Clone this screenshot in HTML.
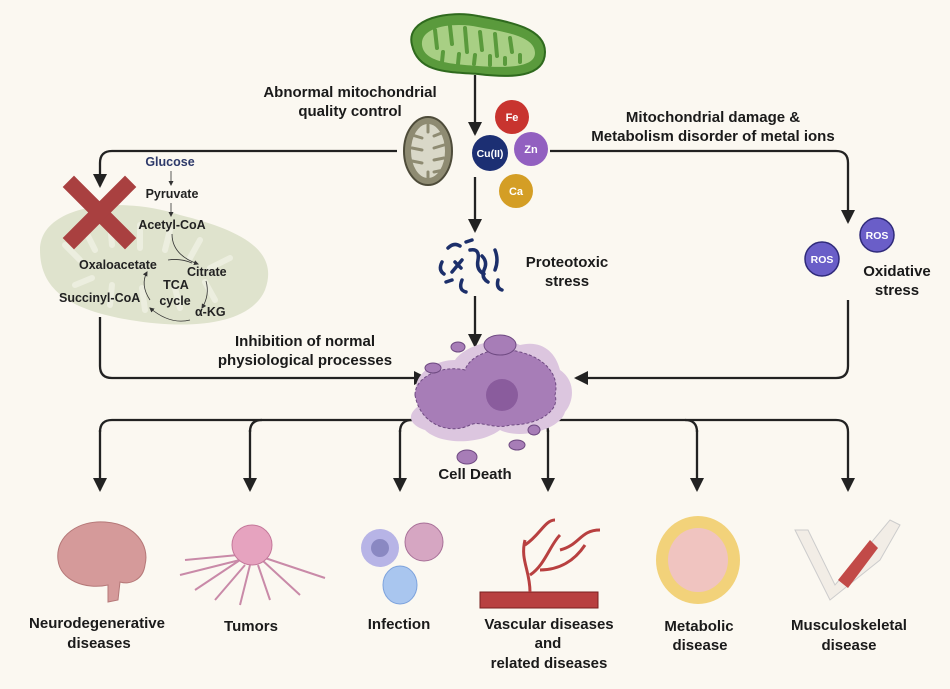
<!DOCTYPE html>
<html><head><meta charset="utf-8"><style>
html,body{margin:0;padding:0;background:#fbf8f1;}
svg{display:block;font-family:"Liberation Sans",sans-serif;font-weight:bold;}
</style></head><body>
<svg width="950" height="689" viewBox="0 0 950 689" xmlns="http://www.w3.org/2000/svg">
<defs>
<marker id="ah2" markerWidth="14" markerHeight="14" refX="12" refY="7" orient="auto" markerUnits="userSpaceOnUse" viewBox="0 0 14 14"><path d="M0,0 L14,7 L0,14 z" fill="#222"/></marker>
<marker id="sm" markerWidth="5" markerHeight="5" refX="4" refY="2.5" orient="auto" markerUnits="userSpaceOnUse" viewBox="0 0 5 5"><path d="M0,0 L5,2.5 L0,5 z" fill="#333"/></marker>
</defs>
<rect width="950" height="689" fill="#fbf8f1"/>

<path d="M40,250 C40,205 120,195 180,215 C240,230 280,250 265,290 C250,325 190,330 130,320 C70,310 40,290 40,250 Z" fill="#dfe3cd"/>
<g stroke="#eceedf" stroke-width="6" fill="none" stroke-linecap="round">
<path d="M65,245 L80,260 M85,230 L95,250 M110,222 L112,245 M140,225 L140,248 M170,230 L165,250 M200,240 L190,258 M230,258 L210,268 M75,285 L92,278 M110,305 L112,285 M145,310 L142,288 M180,308 L175,288 M215,300 L205,282"/>
</g>

<path d="M412,45 C405,18 450,10 478,16 C510,22 545,28 545,52 C545,78 510,78 478,74 C445,72 418,72 412,45 Z" fill="#5a9a3c" stroke="#2f6a1e" stroke-width="2"/>
<path d="M422,45 C420,26 455,22 478,27 C505,32 535,36 535,53 C535,68 505,68 478,66 C450,64 424,62 422,45 Z" fill="#a8cf84"/>
<g stroke="#5a9a3c" stroke-width="4" stroke-linecap="round">
<path d="M435,30 L437,48 M450,26 L452,44 M465,28 L467,52 M480,32 L482,50 M495,34 L497,56 M510,38 L512,52 M442,62 L443,52 M458,64 L459,54 M474,64 L475,55 M490,65 L490,56 M505,64 L505,58 M520,62 L520,55"/>
</g>

<ellipse cx="428" cy="151" rx="24" ry="34" fill="#8e8b72" stroke="#4e4c3a" stroke-width="2"/>
<ellipse cx="428" cy="151" rx="17" ry="27" fill="#d9d8c8"/>
<g stroke="#8e8b72" stroke-width="3" stroke-linecap="round">
<path d="M412,135 L422,138 M412,148 L422,150 M412,161 L422,163 M444,132 L434,136 M444,145 L434,148 M444,158 L434,160 M444,170 L434,172 M428,125 L428,132 M428,178 L428,172"/>
</g>

<circle cx="512" cy="117" r="17" fill="#c8342f"/>
<text x="512" y="121" font-size="11" fill="#fff" text-anchor="middle">Fe</text>
<circle cx="490" cy="153" r="18" fill="#1c2f73"/>
<text x="490" y="157" font-size="10.5" fill="#fff" text-anchor="middle">Cu(II)</text>
<circle cx="531" cy="149" r="17" fill="#9260c0"/>
<text x="531" y="153" font-size="11" fill="#fff" text-anchor="middle">Zn</text>
<circle cx="516" cy="191" r="17" fill="#d49e25"/>
<text x="516" y="195" font-size="11" fill="#fff" text-anchor="middle">Ca</text>

<g stroke="#222" stroke-width="2.3" fill="none">
<line x1="475" y1="75" x2="475" y2="134" marker-end="url(#ah2)"/>
<line x1="475" y1="177" x2="475" y2="231" marker-end="url(#ah2)"/>
<line x1="475" y1="296" x2="475" y2="346" marker-end="url(#ah2)"/>
<path d="M397,151 L112,151 Q100,151 100,163 L100,186" marker-end="url(#ah2)"/>
<path d="M550,151 L836,151 Q848,151 848,163 L848,222" marker-end="url(#ah2)"/>
<path d="M100,317 L100,366 Q100,378 112,378 L426,378" marker-end="url(#ah2)"/>
<path d="M848,300 L848,366 Q848,378 836,378 L576,378" marker-end="url(#ah2)"/>
<path d="M112,420 L836,420"/>
<path d="M100,432 Q100,420 112,420"/>
<path d="M836,420 Q848,420 848,432 L848,490" marker-end="url(#ah2)"/>
<path d="M250,432 Q250,420 262,420"/>
<line x1="250" y1="430" x2="250" y2="490" marker-end="url(#ah2)"/>
<path d="M400,432 Q400,420 412,420"/>
<line x1="400" y1="430" x2="400" y2="490" marker-end="url(#ah2)"/>
<path d="M548,432 Q548,420 536,420"/>
<line x1="548" y1="430" x2="548" y2="490" marker-end="url(#ah2)"/>
<path d="M697,432 Q697,420 685,420"/>
<line x1="697" y1="430" x2="697" y2="490" marker-end="url(#ah2)"/>
<line x1="100" y1="430" x2="100" y2="490" marker-end="url(#ah2)"/>
</g>

<g stroke="#a94040" stroke-width="16" stroke-linecap="square">
<line x1="74" y1="187" x2="125" y2="238"/>
<line x1="125" y1="187" x2="74" y2="238"/>
</g>

<g font-size="12.5" fill="#222">
<text x="170" y="166" text-anchor="middle" fill="#2e3a6a">Glucose</text>
<text x="172" y="198" text-anchor="middle">Pyruvate</text>
<text x="172" y="229" text-anchor="middle">Acetyl-CoA</text>
<text x="79" y="269">Oxaloacetate</text>
<text x="187" y="276">Citrate</text>
<text x="176" y="289" text-anchor="middle">TCA</text>
<text x="175" y="305" text-anchor="middle">cycle</text>
<text x="59" y="302">Succinyl-CoA</text>
<text x="195" y="316">α-KG</text>
</g>
<g stroke="#333" stroke-width="0.8" fill="none">
<line x1="171" y1="171" x2="171" y2="185" marker-end="url(#sm)"/>
<line x1="171" y1="203" x2="171" y2="216" marker-end="url(#sm)"/>
<path d="M172,234 Q172,255 198,264" marker-end="url(#sm)"/>
<path d="M206,281 Q210,295 202,308" marker-end="url(#sm)"/>
<path d="M190,320 Q170,325 150,308" marker-end="url(#sm)"/>
<path d="M150,300 Q140,285 147,272" marker-end="url(#sm)"/>
<path d="M168,260 Q180,258 192,263"/>
</g>

<g stroke="#1c2f6a" stroke-width="3.5" fill="none" stroke-linecap="round">
<path d="M448,248 q6,-6 12,-2"/><path d="M442,262 q-4,8 2,12"/><path d="M455,262 l6,6 M452,272 l10,-12"/>
<path d="M470,250 q10,-2 8,10 q-2,10 6,14"/><path d="M482,256 q6,6 2,14 q-3,8 4,12"/>
<path d="M462,280 q-4,10 4,12"/><path d="M495,250 q4,10 0,20"/><path d="M498,280 q-2,8 4,10"/>
<path d="M446,282 l6,-2"/><path d="M466,242 l6,-2"/>
</g>

<circle cx="877" cy="235" r="17" fill="#6a5ec8" stroke="#2f2a7a" stroke-width="1.5"/>
<text x="877" y="239" font-size="10.5" fill="#fff" text-anchor="middle">ROS</text>
<circle cx="822" cy="259" r="17" fill="#6a5ec8" stroke="#2f2a7a" stroke-width="1.5"/>
<text x="822" y="263" font-size="10.5" fill="#fff" text-anchor="middle">ROS</text>

<path d="M420,405 C405,380 430,360 455,360 C465,345 500,335 520,345 C540,340 555,350 560,370 C575,380 575,400 565,412 C560,430 520,440 500,430 C480,445 440,445 425,430 C410,425 405,415 420,405 Z" fill="#dcc6df"/>
<path d="M415,395 C415,375 445,365 465,370 C470,355 495,345 520,352 C545,358 560,375 555,395 C560,410 540,425 510,425 C495,430 480,420 470,425 C450,435 420,425 415,395 Z" fill="#a77db7" stroke="#6f4a82" stroke-width="1" stroke-dasharray="3,2"/>
<circle cx="502" cy="395" r="16" fill="#8a5c9d"/>
<ellipse cx="500" cy="345" rx="16" ry="10" fill="#a77db7" stroke="#6f4a82" stroke-width="1"/>
<ellipse cx="458" cy="347" rx="7" ry="5" fill="#a77db7" stroke="#6f4a82"/>
<ellipse cx="433" cy="368" rx="8" ry="5" fill="#a77db7" stroke="#6f4a82"/>
<ellipse cx="467" cy="457" rx="10" ry="7" fill="#a77db7" stroke="#6f4a82"/>
<ellipse cx="517" cy="445" rx="8" ry="5" fill="#a77db7" stroke="#6f4a82"/>
<ellipse cx="534" cy="430" rx="6" ry="5" fill="#a77db7" stroke="#6f4a82"/>

<g font-size="15" fill="#1a1a1a">
<text x="350" y="97" text-anchor="middle">Abnormal mitochondrial</text>
<text x="350" y="116" text-anchor="middle">quality control</text>
<text x="713" y="122" text-anchor="middle">Mitochondrial damage &amp;</text>
<text x="713" y="141" text-anchor="middle">Metabolism disorder of metal ions</text>
<text x="567" y="267" text-anchor="middle">Proteotoxic</text>
<text x="567" y="286" text-anchor="middle">stress</text>
<text x="897" y="276" text-anchor="middle">Oxidative</text>
<text x="897" y="295" text-anchor="middle">stress</text>
<text x="305" y="346" text-anchor="middle">Inhibition of normal</text>
<text x="305" y="365" text-anchor="middle">physiological processes</text>
<text x="475" y="479" text-anchor="middle">Cell Death</text>
<text x="97" y="628" text-anchor="middle">Neurodegenerative</text>
<text x="99" y="648" text-anchor="middle">diseases</text>
<text x="251" y="631" text-anchor="middle">Tumors</text>
<text x="399" y="629" text-anchor="middle">Infection</text>
<text x="549" y="629" text-anchor="middle">Vascular diseases</text>
<text x="548" y="648" text-anchor="middle">and</text>
<text x="549" y="668" text-anchor="middle">related diseases</text>
<text x="699" y="631" text-anchor="middle">Metabolic</text>
<text x="700" y="650" text-anchor="middle">disease</text>
<text x="849" y="630" text-anchor="middle">Musculoskeletal</text>
<text x="849" y="650" text-anchor="middle">disease</text>
</g>

<path d="M58,560 C55,535 80,520 105,522 C135,524 150,545 145,565 C143,580 130,585 120,582 L118,600 L108,602 L108,585 C85,590 60,580 58,560 Z" fill="#d59a9a" stroke="#b57878"/>
<g stroke="#c98aa8" stroke-width="2" fill="none">
<path d="M240,560 L180,575 M240,560 L195,590 M245,565 L215,600 M250,565 L240,605 M258,565 L270,600 M262,560 L300,595 M265,558 L325,578 M238,555 L185,560"/>
</g>
<circle cx="252" cy="545" r="20" fill="#e6a3bf" stroke="#c4789a"/>
<circle cx="380" cy="548" r="19" fill="#b7b4e6"/><circle cx="380" cy="548" r="9" fill="#8a88c2"/>
<circle cx="424" cy="542" r="19" fill="#d6a6c2" stroke="#a87098"/>
<ellipse cx="400" cy="585" rx="17" ry="19" fill="#a9c6ef" stroke="#7da3dd"/>
<rect x="480" y="592" width="118" height="16" fill="#b84040" stroke="#7a2020"/>
<g stroke="#b84040" stroke-width="3" fill="none">
<path d="M530,592 C530,570 520,560 525,540 M530,575 C545,565 550,545 560,535 M540,570 C560,570 575,560 585,545 M525,545 C540,535 545,520 555,520 M560,550 C580,545 580,530 600,530"/>
</g>
<ellipse cx="698" cy="560" rx="42" ry="44" fill="#f2d27a"/>
<ellipse cx="698" cy="560" rx="30" ry="32" fill="#f0c4c0"/>
<path d="M795,530 L830,600 L880,560 L900,525 L890,520 L865,550 L835,585 L808,530 Z" fill="#f2ede6" stroke="#ccc"/>
<path d="M838,580 L870,540 L878,548 L848,588 Z" fill="#c24a48"/>
</svg>
</body></html>
